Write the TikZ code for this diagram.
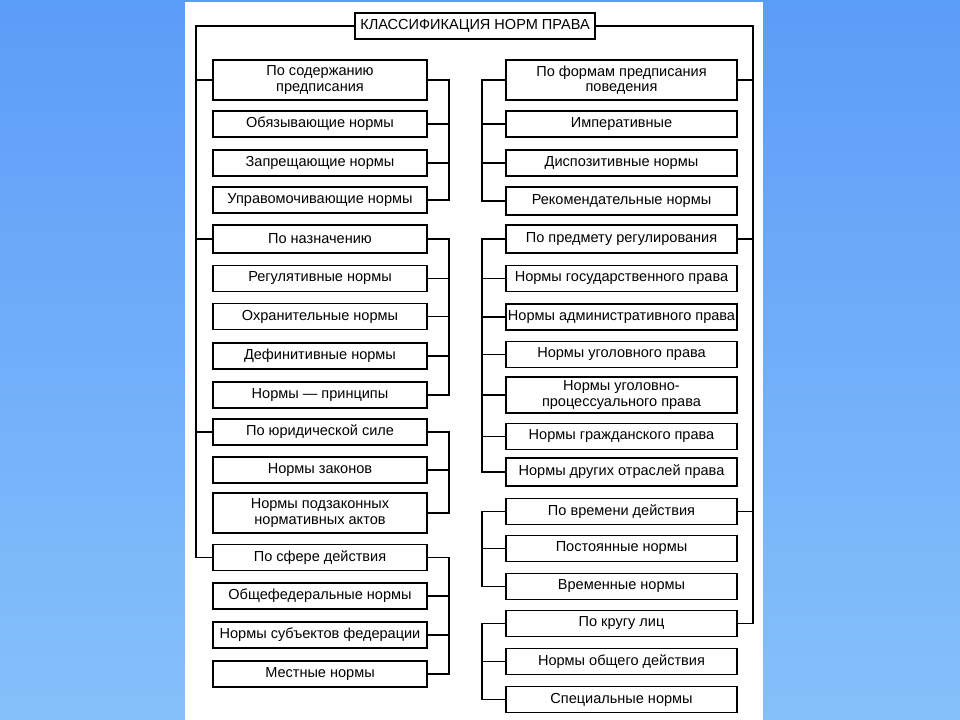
\documentclass[tikz,border=0pt]{standalone}
\usepackage{fontspec}
\setmainfont{Liberation Sans}
\usetikzlibrary{calc}

\definecolor{bgtop}{RGB}{92,156,249}
\definecolor{bgbot}{RGB}{134,192,250}

\tikzset{
  kind/.style={draw, line width=1.4pt, fill=white, inner sep=1pt, align=center,
    font=\fontsize{10.9}{11.5}\selectfont, minimum height=19.5pt},
  lbox/.style={kind, minimum width=160.5pt},
  rbox/.style={kind, minimum width=173.25pt},
  tall/.style={minimum height=30pt},
  link/.style={line width=1.4pt}
}

\begin{document}
\begin{tikzpicture}[x=0.75pt, y=-0.75pt]
    \useasboundingbox (0,0) rectangle (960,720);
    \shade[top color=bgtop, bottom color=bgbot] (0,0) rectangle (960,720);
    \fill[white] (185,2) rectangle (763,720);

    % title
    \node[kind, minimum width=180pt, minimum height=20pt] (title) at (475,26) {КЛАССИФИКАЦИЯ НОРМ ПРАВА};

    % left column
    \node[lbox, tall] (L1) at (320,80) {По содержанию\\предписания};
    \node[lbox] (L2) at (320,124) {Обязывающие нормы};
    \node[lbox] (L3) at (320,163) {Запрещающие нормы};
    \node[lbox] (L4) at (320,200) {Управомочивающие нормы};
    \node[lbox, minimum height=21pt] (L5) at (320,239) {По назначению};
    \node[lbox] (L6) at (320,278.5) {Регулятивные нормы};
    \node[lbox] (L7) at (320,316.5) {Охранительные нормы};
    \node[lbox] (L8) at (320,356) {Дефинитивные нормы};
    \node[lbox] (L9) at (320,395) {Нормы — принципы};
    \node[lbox] (L10) at (320,432) {По юридической силе};
    \node[lbox] (L11) at (320,470) {Нормы законов};
    \node[lbox, tall] (L12) at (320,513) {Нормы подзаконных\\нормативных актов};
    \node[lbox] (L13) at (320,557.5) {По сфере действия};
    \node[lbox] (L14) at (320,596) {Общефедеральные нормы};
    \node[lbox] (L15) at (320,635) {Нормы субъектов федерации};
    \node[lbox] (L16) at (320,674) {Местные нормы};

    % right column
    \node[rbox, tall] (R1) at (621.5,80) {По формам предписания\\поведения};
    \node[rbox] (R2) at (621.5,124) {Императивные};
    \node[rbox] (R3) at (621.5,163) {Диспозитивные нормы};
    \node[rbox, minimum height=20.5pt] (R4) at (621.5,201) {Рекомендательные нормы};
    \node[rbox, minimum height=21pt] (R5) at (621.5,239) {По предмету регулирования};
    \node[rbox] (R6) at (621.5,278.5) {Нормы государственного права};
    \node[rbox] (R7) at (621.5,317) {Нормы административного права};
    \node[rbox] (R8) at (621.5,354.5) {Нормы уголовного права};
    \node[rbox, minimum height=27pt] (R9) at (621.5,395) {Нормы уголовно-\\процессуального права};
    \node[rbox] (R10) at (621.5,436.5) {Нормы гражданского права};
    \node[rbox, minimum height=21.5pt] (R11) at (621.5,472) {Нормы других отраслей права};
    \node[rbox] (R12) at (621.5,511.5) {По времени действия};
    \node[rbox] (R13) at (621.5,548.5) {Постоянные нормы};
    \node[rbox] (R14) at (621.5,586.5) {Временные нормы};
    \node[rbox] (R15) at (621.5,623.5) {По кругу лиц};
    \node[rbox] (R16) at (621.5,661.5) {Нормы общего действия};
    \node[rbox] (R17) at (621.5,699.5) {Специальные нормы};

    % trunk and bracket lines
    \coordinate (lt) at (196,0);
    \coordinate (lb) at (449,0);
    \coordinate (rt) at (753,0);
    \coordinate (rb) at (482,0);

    % left trunk
    \draw[link] (title.west) -| (lt |- L13.west) -- (L13.west);
    \foreach \n in {L1,L5,L10}
        \draw[link] (lt |- \n.west) -- (\n.west);

    % left groups
    \draw[link] (L1.east) -| (lb |- L4.east) -- (L4.east);
    \draw[link] (L5.east) -| (lb |- L9.east) -- (L9.east);
    \draw[link] (L10.east) -| (lb |- L12.east) -- (L12.east);
    \draw[link] (L13.east) -| (lb |- L16.east) -- (L16.east);
    \foreach \n in {L2,L3,L6,L7,L8,L11,L14,L15}
        \draw[link] (\n.east) -- (lb |- \n.east);

    % right trunk
    \draw[link] (title.east) -| (rt |- R15.east) -- (R15.east);
    \foreach \n in {R1,R5,R12}
        \draw[link] (rt |- \n.east) -- (\n.east);

    % right groups
    \draw[link] (R1.west) -| (rb |- R4.west) -- (R4.west);
    \draw[link] (R5.west) -| (rb |- R11.west) -- (R11.west);
    \draw[link] (R12.west) -| (rb |- R14.west) -- (R14.west);
    \draw[link] (R15.west) -| (rb |- R17.west) -- (R17.west);
    \foreach \n in {R2,R3,R6,R7,R8,R9,R10,R13,R16}
        \draw[link] (rb |- \n.west) -- (\n.west);
\end{tikzpicture}
\end{document}
